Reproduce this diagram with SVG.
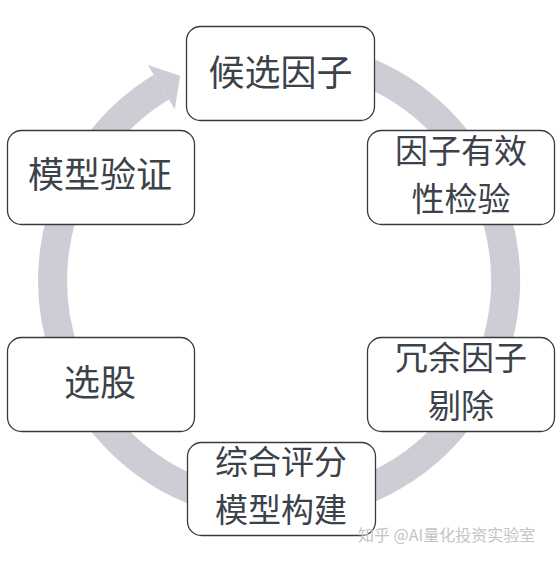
<svg xmlns="http://www.w3.org/2000/svg" width="559" height="561" viewBox="0 0 559 561">
<style>
.box{fill:#ffffff;stroke:#3a3a3a;stroke-width:1.3}
.t{font-family:"Noto Sans CJK SC","Noto Sans",sans-serif;font-size:36px;fill:#3b4249;text-anchor:middle}
.t2{font-family:"Noto Sans CJK SC","Noto Sans",sans-serif;font-size:33px;fill:#3b4249;text-anchor:middle}
.wm{font-family:"Noto Sans CJK SC","Noto Sans",sans-serif;font-size:16px;fill:#c4c4c4}
</style>
<rect width="559" height="561" fill="#ffffff"/>
<g id="connectors">
<path d="M370,73.1 A226.5,226.5 0 1 1 161.3,87.1" fill="none" stroke="#cccdd5" stroke-width="29"/>
<polygon points="147.8,64.9 180.1,75.7 174.8,109.3" fill="#cccdd5"/>
</g>
<g id="node-candidate">
<rect class="box" x="186.5" y="26.5" width="188" height="94" rx="14"/>
<text class="t" x="280.5" y="86">候选因子</text>
</g>
<g id="node-validity">
<rect class="box" x="367.5" y="130.5" width="187" height="94" rx="14"/>
<text class="t2" x="461" y="162.5">因子有效<tspan x="461" dy="48">性检验</tspan></text>
</g>
<g id="node-redundant">
<rect class="box" x="367.5" y="337.5" width="187" height="94" rx="14"/>
<text class="t2" x="461" y="370">冗余因子<tspan x="461" dy="48">剔除</tspan></text>
</g>
<g id="node-model-build">
<rect class="box" x="187.5" y="442.5" width="188" height="93" rx="14"/>
<text class="t2" x="281" y="474">综合评分<tspan x="281" dy="48">模型构建</tspan></text>
</g>
<g id="node-stock">
<rect class="box" x="7.5" y="337.5" width="187" height="94" rx="14"/>
<text class="t" x="100" y="396">选股</text>
</g>
<g id="node-model-verify">
<rect class="box" x="7.5" y="130.5" width="187" height="94" rx="14"/>
<text class="t" x="100" y="188">模型验证</text>
</g>
<text class="wm" x="358" y="541">知乎 @AI量化投资实验室</text>
</svg>
